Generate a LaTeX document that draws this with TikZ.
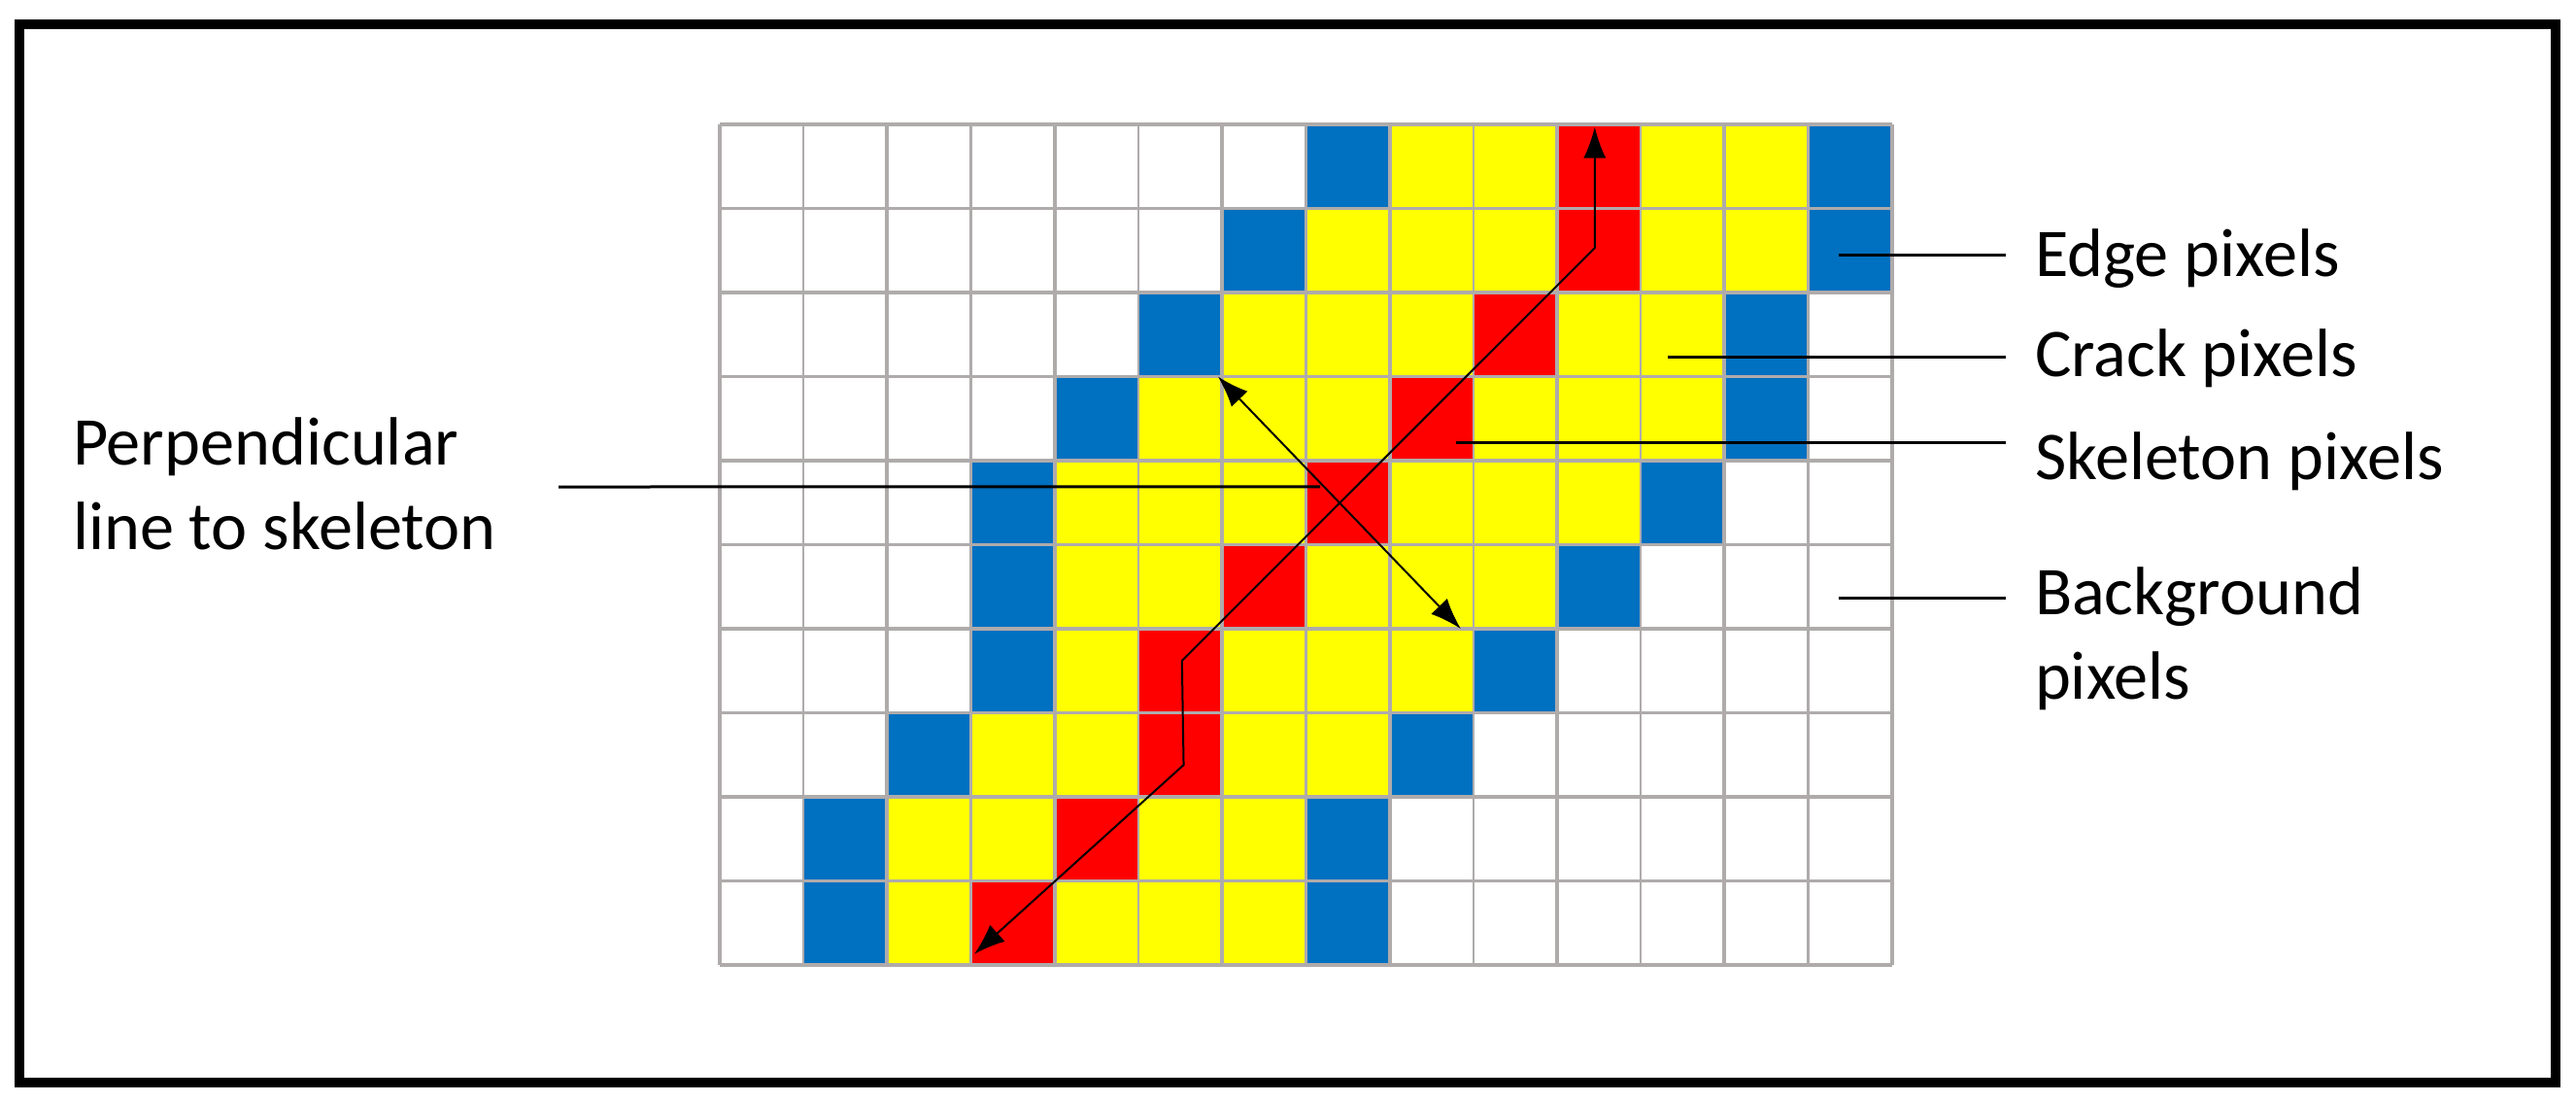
\documentclass[tikz,border=0pt]{standalone}
\usepackage{fontspec}
\setmainfont{Carlito}
\usepackage{tikz}
\usetikzlibrary{math}
\usetikzlibrary{arrows.meta}

\definecolor{edgeblue}{HTML}{0070C0}
\definecolor{crackyellow}{HTML}{FFFF00}
\definecolor{skelred}{HTML}{FF0000}
\definecolor{gridgrey}{HTML}{AFABAB}

\tikzset{
  lbl/.style={anchor=base west, inner xsep=0.29cm, inner ysep=0pt,
    font=\fontsize{20}{24.75}\selectfont},
  leader/.style={line width=0.3mm},
  skel/.style={<->, >={Latex[length=3.2mm,width=2.3mm]}, line width=0.2mm},
}

\begin{document}
\begin{tikzpicture}[line width=0.20mm]

  \tikzmath{
    \cellw = 0.862; % width of one pixel cell
    \cellh = 0.865; % height of one pixel cell
    \gx    = 7.41;  % left edge of the grid
    \gy    = -1.28; % top edge of the grid
  }

  \useasboundingbox (0,0) rectangle (26.52,-11.33);

  % outer frame
  \draw[line width=1mm] (0.20,-0.25) rectangle (26.31,-11.14);

  \begin{scope}[shift={(\gx,\gy)}, x=\cellw cm, y=-\cellh cm]

    % pixels: row / left edge / skeleton / right edge
    \foreach \r/\lb/\sk/\rb in {0/7/10/13, 1/6/10/13, 2/5/9/12, 3/4/8/12,
        4/3/7/11, 5/3/6/10, 6/3/5/9, 7/2/5/8, 8/1/4/7, 9/1/3/7} {
      \fill[crackyellow] (\lb,\r) rectangle (\rb+1,\r+1);
      \fill[edgeblue] (\lb,\r) rectangle ++(1,1);
      \fill[edgeblue] (\rb,\r) rectangle ++(1,1);
      \fill[skelred] (\sk,\r) rectangle ++(1,1);
    }

    % grid, every second line heavier
    \foreach \i in {0,...,14}
      \draw[gridgrey, line width=0.25mm] (\i,0) -- (\i,10);
    \foreach \j in {0,...,10}
      \draw[gridgrey, line width=0.25mm] (0,\j) -- (14,\j);
    \foreach \i in {0,2,...,14}
      \draw[gridgrey, line width=0.4mm] (\i,0) -- (\i,10);
    \foreach \j in {0,2,...,10}
      \draw[gridgrey, line width=0.45mm] (0,\j) -- (14,\j);

    % skeleton line
    \coordinate (skelA) at (3.04,9.87);
    \coordinate (skelB) at (5.54,7.62);
    \coordinate (skelC) at (5.52,6.38);
    \coordinate (skelD) at (10.45,1.47);
    \coordinate (skelE) at (10.45,0.03);
    \draw[skel] (skelA) -- (skelB) -- (skelC) -- (skelD) -- (skelE);

    % perpendicular line
    \coordinate (perpA) at (5.95,3.0);
    \coordinate (perpB) at (8.85,6.0);
    \draw[skel] (perpA) -- (perpB);

    % points picked by the labels
    \coordinate (edgept)  at (13.36,1.55);
    \coordinate (crackpt) at (11.32,2.77);
    \coordinate (skelpt)  at (8.79,3.79);
    \coordinate (backpt)  at (13.36,5.64);
    \coordinate (perpto)  at (7.17,4.31);

  \end{scope}

  % labels (base of a two-line label is its last line)
  \node[lbl] (edgelbl)  at (20.65,-2.84)  {Edge pixels};
  \node[lbl] (cracklbl) at (20.65,-3.875) {Crack pixels};
  \node[lbl] (skellbl)  at (20.65,-4.93)  {Skeleton pixels};
  \node[lbl, align=left] (backlbl) at (20.65,-7.19) {Background\\pixels};
  \node[lbl, align=left, inner xsep=0pt] (perplbl) at (0.74,-5.65)
    {Perpendicular\\line to skeleton};

  \draw[leader] (edgept)  -- (edgept -| edgelbl.west);
  \draw[leader] (crackpt) -- (crackpt -| cracklbl.west);
  \draw[leader] (skelpt)  -- (skelpt -| skellbl.west);
  \draw[leader] (backpt)  -- (backpt -| backlbl.west);

  \coordinate (perpfrom) at (5.75,-5.01);
  \draw[leader] (perpfrom) -- (perpto);

\end{tikzpicture}
\end{document}
